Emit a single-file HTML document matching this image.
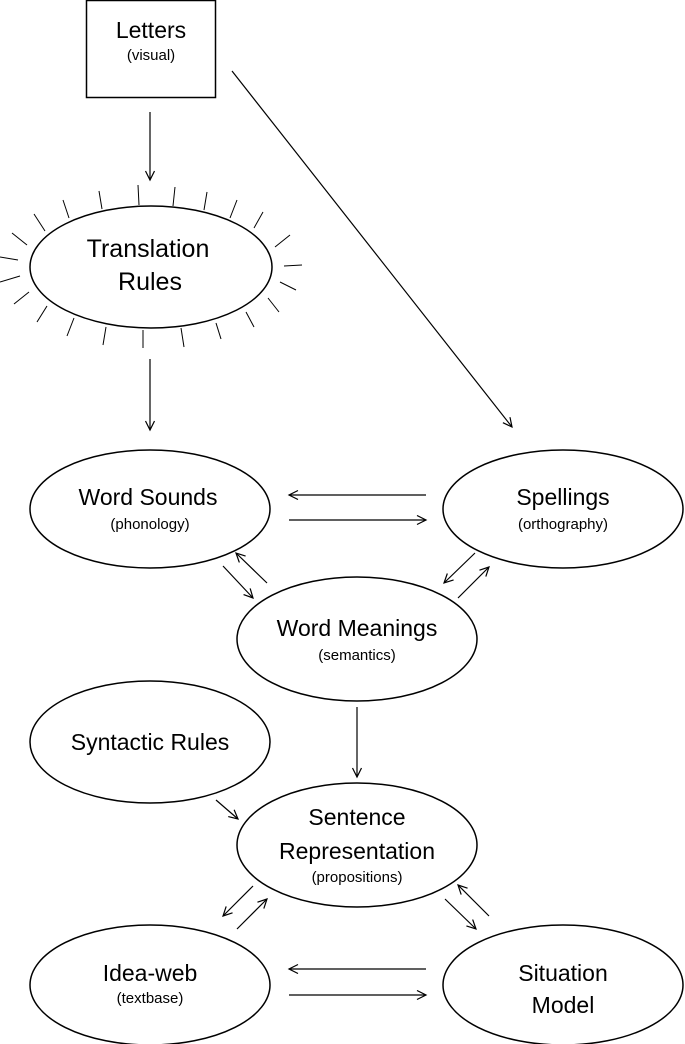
<!DOCTYPE html>
<html><head><meta charset="utf-8"><style>
html,body{margin:0;padding:0;background:#fff;}
svg{display:block;}
text{font-family:"Liberation Sans",Arial,sans-serif;fill:#000;text-anchor:middle;}
.m{font-size:23px;}
.s{font-size:15px;}
</style></head><body>
<svg width="685" height="1044" viewBox="0 0 685 1044" xmlns="http://www.w3.org/2000/svg">
<defs>
<marker id="a" markerWidth="12" markerHeight="12" refX="10" refY="5" orient="auto" markerUnits="userSpaceOnUse">
<polyline points="1,0.5 10,5 1,9.5" fill="none" stroke="#000" stroke-width="1.2"/>
</marker>
</defs>
<g fill="none" stroke="#000" stroke-width="1.5">
<rect x="86.5" y="0.5" width="129" height="97"/>
<ellipse cx="151" cy="267" rx="121" ry="61"/>
<ellipse cx="150" cy="509" rx="120" ry="59"/>
<ellipse cx="563" cy="509" rx="120" ry="59"/>
<ellipse cx="357" cy="639" rx="120" ry="62"/>
<ellipse cx="150" cy="742" rx="120" ry="61"/>
<ellipse cx="357" cy="845" rx="120" ry="62"/>
<ellipse cx="150" cy="985" rx="120" ry="60"/>
<ellipse cx="563" cy="985" rx="120" ry="60"/>
</g>
<g stroke="#000" stroke-width="1">
<line x1="138" y1="185" x2="139" y2="205"/>
<line x1="175" y1="187" x2="173" y2="206"/>
<line x1="207" y1="192" x2="204" y2="210"/>
<line x1="237" y1="200" x2="230" y2="218"/>
<line x1="263" y1="212" x2="254" y2="228"/>
<line x1="290" y1="235" x2="275" y2="247"/>
<line x1="302" y1="265" x2="284" y2="266"/>
<line x1="296" y1="290" x2="280" y2="282"/>
<line x1="279" y1="312" x2="268" y2="298"/>
<line x1="254" y1="327" x2="246" y2="312"/>
<line x1="221" y1="339" x2="216" y2="323"/>
<line x1="184" y1="347" x2="181" y2="328"/>
<line x1="143" y1="348" x2="143" y2="330"/>
<line x1="103" y1="345" x2="106" y2="327"/>
<line x1="67" y1="336" x2="74" y2="318"/>
<line x1="37" y1="322" x2="47" y2="306"/>
<line x1="14" y1="304" x2="29" y2="292"/>
<line x1="0" y1="282" x2="20" y2="276"/>
<line x1="0" y1="257" x2="18" y2="260"/>
<line x1="12" y1="233" x2="27" y2="245"/>
<line x1="34" y1="214" x2="45" y2="231"/>
<line x1="63" y1="200" x2="69" y2="218"/>
<line x1="99" y1="191" x2="102" y2="209"/>
</g>
<g stroke="#000" stroke-width="1.2" marker-end="url(#a)">
<line x1="150" y1="112" x2="150" y2="180"/>
<line x1="150" y1="359" x2="150" y2="430"/>
<line x1="232" y1="71" x2="512" y2="427"/>
<line x1="426" y1="495" x2="289" y2="495"/>
<line x1="289" y1="520" x2="426" y2="520"/>
<line x1="223" y1="566" x2="253" y2="598"/>
<line x1="267" y1="583" x2="236" y2="553"/>
<line x1="475" y1="553" x2="444" y2="583"/>
<line x1="458" y1="598" x2="489" y2="567"/>
<line x1="357" y1="707" x2="357" y2="777"/>
<line x1="216" y1="800" x2="238" y2="819"/>
<line x1="253" y1="886" x2="223" y2="916"/>
<line x1="237" y1="929" x2="267" y2="899"/>
<line x1="445" y1="899" x2="476" y2="929"/>
<line x1="489" y1="916" x2="458" y2="885"/>
<line x1="426" y1="969" x2="289" y2="969"/>
<line x1="289" y1="995" x2="426" y2="995"/>
</g>
<text class="m" x="151" y="38">Letters</text>
<text class="s" x="151" y="60">(visual)</text>
<text class="m" x="148" y="257" style="font-size:25px">Translation</text>
<text class="m" x="150" y="290" style="font-size:25px">Rules</text>
<text class="m" x="148" y="505">Word Sounds</text>
<text class="s" x="150" y="529">(phonology)</text>
<text class="m" x="563" y="505">Spellings</text>
<text class="s" x="563" y="529">(orthography)</text>
<text class="m" x="357" y="636">Word Meanings</text>
<text class="s" x="357" y="660">(semantics)</text>
<text class="m" x="150" y="750">Syntactic Rules</text>
<text class="m" x="357" y="825">Sentence</text>
<text class="m" x="357" y="859">Representation</text>
<text class="s" x="357" y="882">(propositions)</text>
<text class="m" x="150" y="981">Idea-web</text>
<text class="s" x="150" y="1003">(textbase)</text>
<text class="m" x="563" y="981">Situation</text>
<text class="m" x="563" y="1013">Model</text>
</svg>
</body></html>
